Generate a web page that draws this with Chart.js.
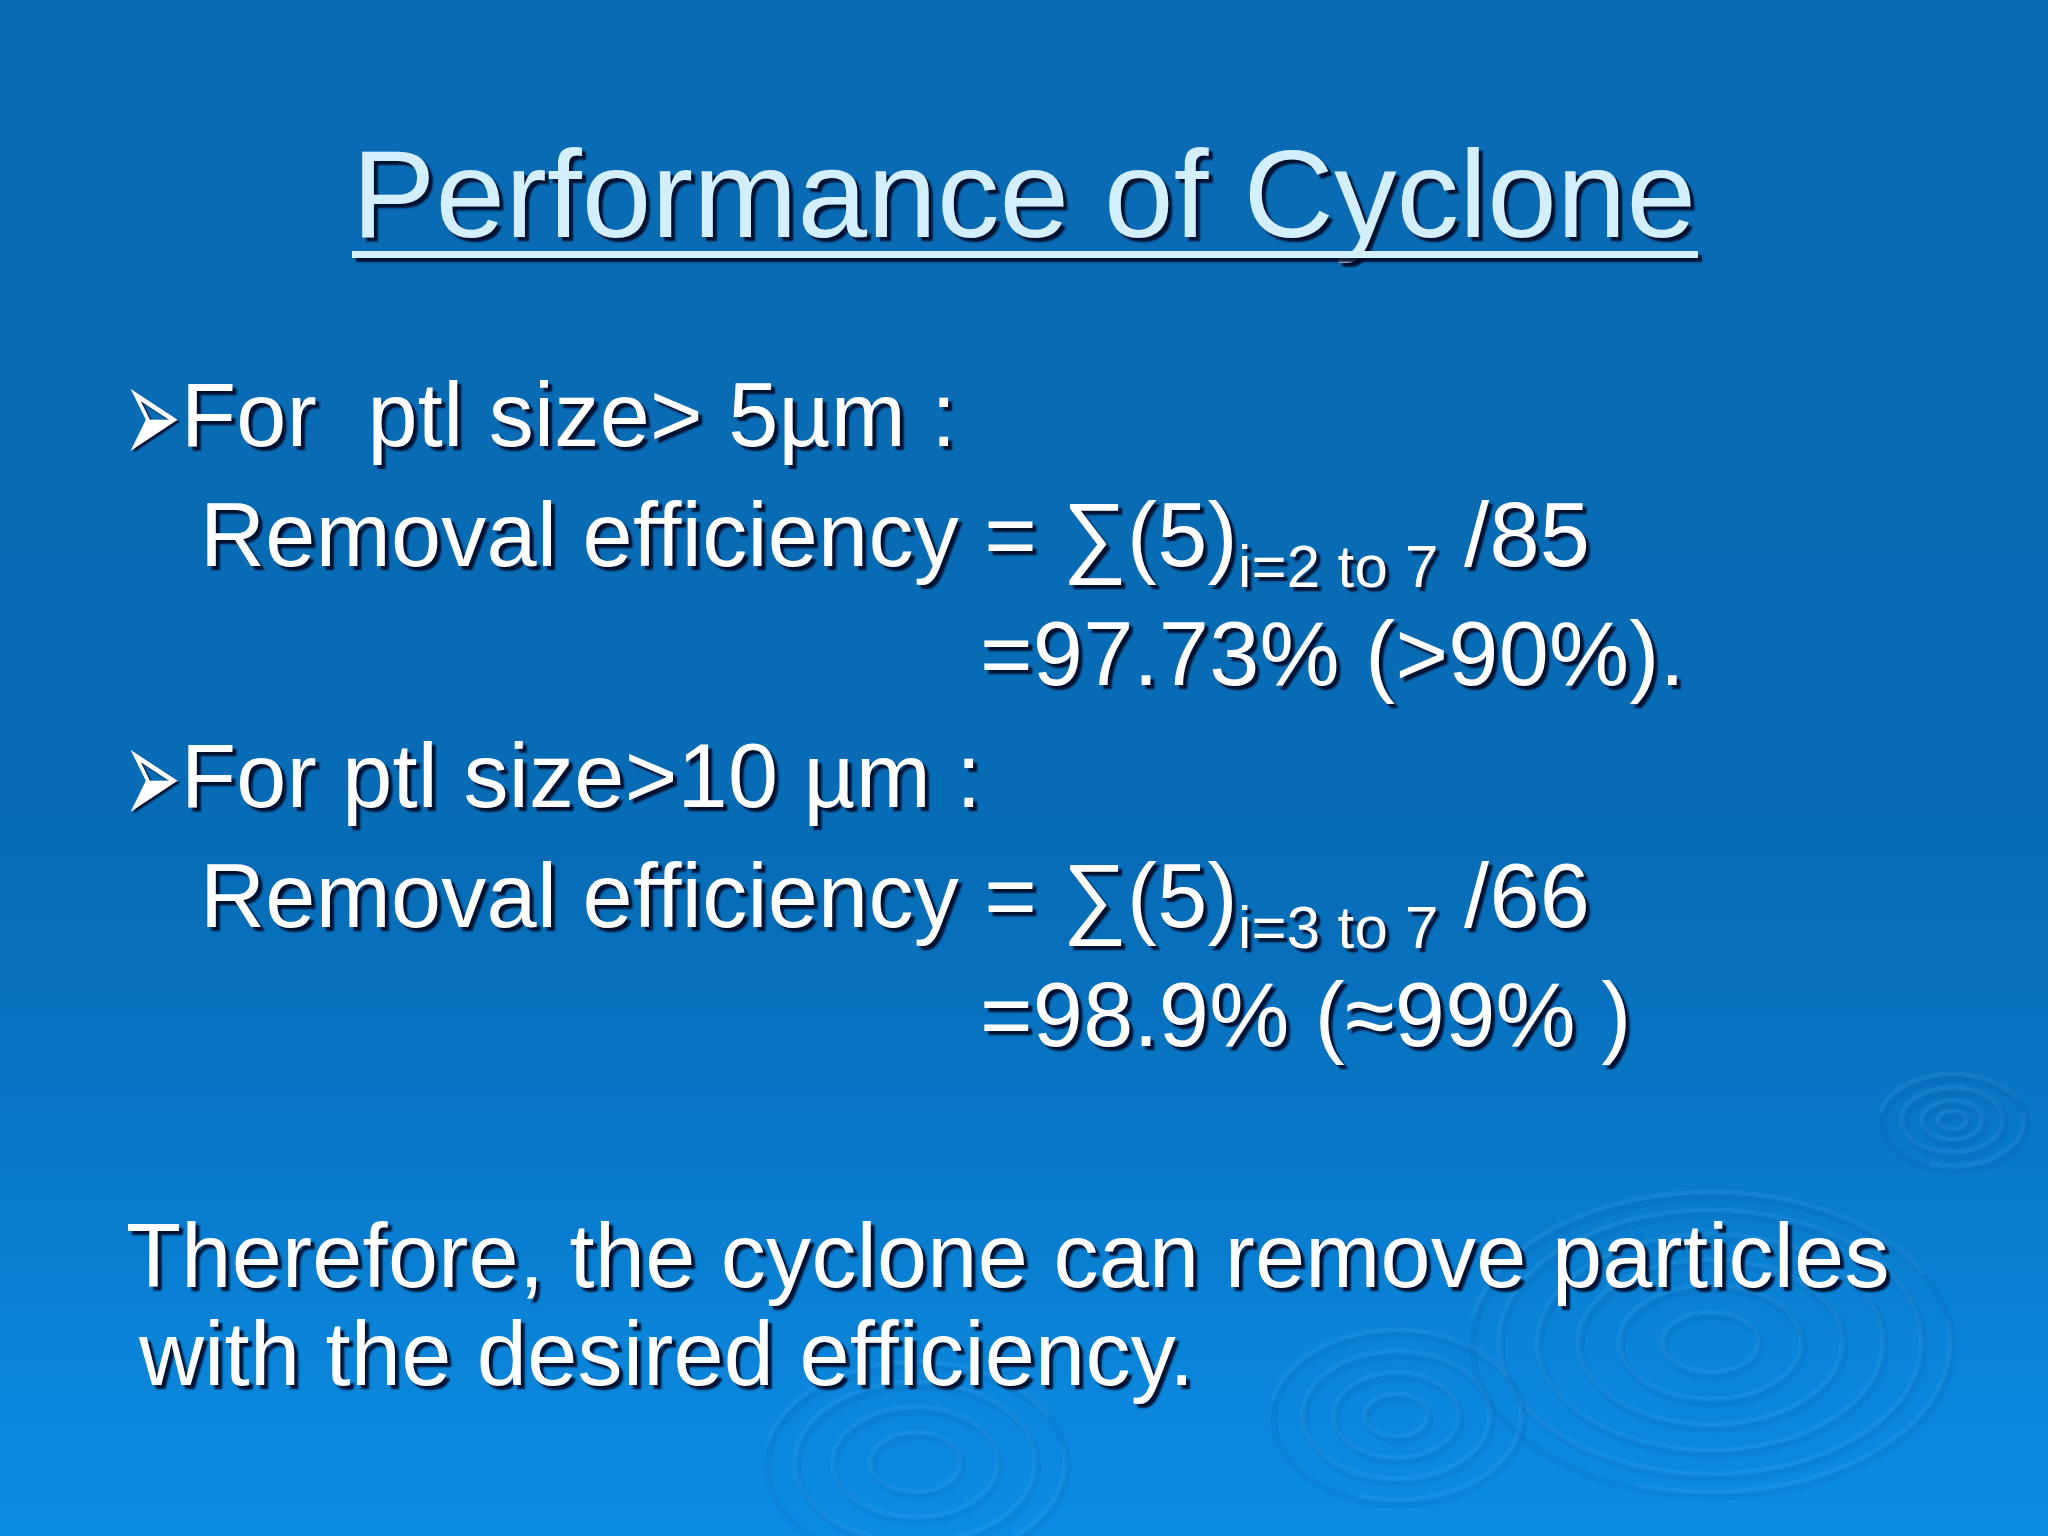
<!DOCTYPE html>
<html>
<head>
<meta charset="utf-8">
<script src="https://cdn.jsdelivr.net/npm/chart.js@4"></script>
<style>
  html, body { margin: 0; padding: 0; background: #0a6ab2; }
  #stage { position: relative; width: 2048px; height: 1536px; overflow: hidden; }
  #bg { position: absolute; left: 0; top: 0; width: 2048px; height: 1536px; }
  .t { position: absolute; white-space: pre; font-family: "Liberation Sans", Arial, sans-serif; color: #ffffff;
       letter-spacing: 0.3px; text-shadow: 4px 4px 2px rgba(0, 8, 35, 0.9); }
  .title { color: #d3eefd; letter-spacing: 0.15px; }
  .sub { font-size: 60px; position: relative; top: 21px; }
  .arrow { font-family: "DejaVu Sans", sans-serif; transform-origin: 0 100%; transform: scale(1.08, 2.2);
           text-shadow: 2px 1px 1px rgba(0, 8, 35, 0.9); }
  #uline { position: absolute; background: #d3eefd; box-shadow: 4px 4px 2px rgba(0, 8, 35, 0.9); }
</style>
</head>
<body>
<div id="stage">
  <div id="bg"><canvas id="c" width="2048" height="1536"></canvas></div>
</div>
<script>
// ---- slide content (data) ----
const titleText = "Performance of Cyclone";
const sizeLimits = ["5", "10"];                 // particle size thresholds (µm)
const sumRanges = ["i=2 to 7", "i=3 to 7"];     // summation ranges
const denominators = ["85", "66"];
const efficiencies = ["97.73%", "98.9%"];
const comparisons = ["(>90%).", "(≈99% )"];
const conclusion = ["Therefore, the cyclone can remove particles", "with the desired efficiency."];

// ---- layout helpers ----
const stage = document.getElementById('stage');
function place(html, cls, x, baseline, fs) {
  const lh = Math.round(fs * 1.2);
  const d = document.createElement('div');
  d.className = 't ' + (cls || '');
  d.style.fontSize = fs + 'px';
  d.style.lineHeight = lh + 'px';
  d.style.left = x + 'px';
  d.style.top = (baseline - (lh - 1.117 * fs) / 2 - 0.905 * fs) + 'px';
  d.innerHTML = html;
  stage.appendChild(d);
  return d;
}

// Background chart (Chart.js): empty scatter with hidden axes, plugin paints the slide background
const slideBackground = {
  id: 'slideBackground',
  beforeDraw(chart) {
    const ctx = chart.ctx, W = chart.width, H = chart.height;
    const g = ctx.createLinearGradient(0, 0, 0, H);
    g.addColorStop(0.0, '#0a6bb3');
    g.addColorStop(0.55, '#076cb6');
    g.addColorStop(0.72, '#0876c5');
    g.addColorStop(0.88, '#0a84d9');
    g.addColorStop(1.0, '#0b8ce4');
    ctx.save();
    ctx.fillStyle = g;
    ctx.fillRect(0, 0, W, H);
    const ripples = [
      {cx: 1952, cy: 1120, rx: 72, ry: 46, rings: [0.2, 0.42, 0.7, 1.0]},
      {cx: 1710, cy: 1342, rx: 240, ry: 150, rings: [0.2, 0.38, 0.55, 0.72, 0.88, 1.0]},
      {cx: 1396, cy: 1415, rx: 125, ry: 85, rings: [0.25, 0.5, 0.75, 1.0]},
      {cx: 915, cy: 1462, rx: 150, ry: 100, rings: [0.3, 0.55, 0.8, 1.0]}
    ];
    ripples.forEach(r => {
      r.rings.forEach((k, i) => {
        ctx.lineWidth = 7;
        ctx.strokeStyle = 'rgba(0, 40, 110, 0.07)';
        ctx.beginPath();
        ctx.ellipse(r.cx + 3, r.cy + 5, r.rx * k, r.ry * k, 0, 0, Math.PI * 2);
        ctx.stroke();
        ctx.lineWidth = 5;
        ctx.strokeStyle = 'rgba(120, 200, 255, 0.10)';
        ctx.beginPath();
        if (i === r.rings.length - 1) {
          ctx.ellipse(r.cx, r.cy, r.rx * k, r.ry * k, 0, Math.PI * 1.05, Math.PI * 1.85);
          ctx.stroke();
          ctx.beginPath();
          ctx.ellipse(r.cx, r.cy, r.rx * k, r.ry * k, 0, Math.PI * 1.95, Math.PI * 2.6);
        } else {
          ctx.ellipse(r.cx, r.cy, r.rx * k, r.ry * k, 0, 0, Math.PI * 2);
        }
        ctx.stroke();
      });
    });
    ctx.restore();
  }
};

new Chart(document.getElementById('c'), {
  type: 'scatter',
  data: { datasets: [] },
  options: {
    responsive: false,
    animation: false,
    devicePixelRatio: 1,
    layout: { padding: 0 },
    plugins: { legend: { display: false }, tooltip: { enabled: false }, title: { display: false } },
    scales: { x: { display: false }, y: { display: false } }
  },
  plugins: [slideBackground]
});

// ---- text ----
place(titleText, 'title', 352, 237, 125);
const ul = document.createElement('div');
ul.id = 'uline';
ul.style.left = '352px'; ul.style.top = '251px'; ul.style.width = '1346px'; ul.style.height = '7px';
stage.appendChild(ul);

const blockBase = [446, 807];
for (let k = 0; k < 2; k++) {
  const b = blockBase[k];
  place('\u27A2', 'arrow', 123, b + 39, 64);
  const head = k === 0 ? 'For  ptl size> ' + sizeLimits[k] + 'µm :' : 'For ptl size>' + sizeLimits[k] + ' µm :';
  place(head, '', 181, b, 90);
  place('Removal efficiency = ∑(5)<span class="sub">' + sumRanges[k] + '</span> /' + denominators[k], '', 200, b + 120, 90);
  place('=' + efficiencies[k] + ' ' + comparisons[k], '', 980, b + 239, 90);
}
place(conclusion[0], '', 126, 1287, 90);
place(conclusion[1], '', 139, 1385, 90);
</script>
</body>
</html>
